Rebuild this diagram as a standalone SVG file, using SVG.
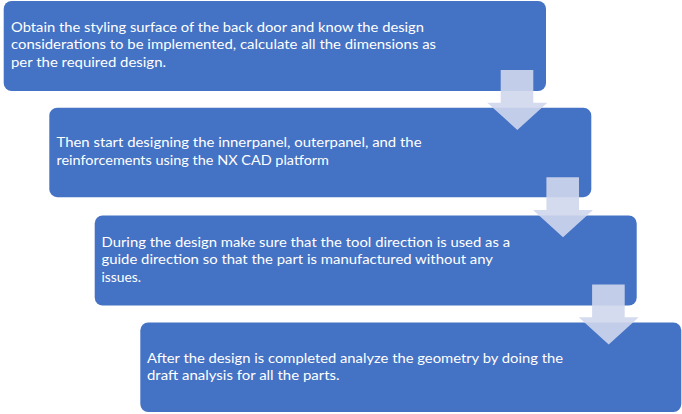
<svg xmlns="http://www.w3.org/2000/svg" width="682" height="414" viewBox="0 0 682 414">
  <style>
    .box { fill: #4472C4; }
    .txt { fill: #FFFFFF; font-family: "Lato", "Liberation Sans", sans-serif; font-size: 13.5px; }
    .arrow { fill: #D0D7ED; fill-opacity: 0.9; }
  </style>
  <rect width="682" height="414" fill="#FFFFFF"/>
  <g id="step1">
    <rect class="box" x="3.7" y="1" width="542.3" height="90" rx="8" ry="8"/>
    <text class="txt" x="11" y="31.7" textLength="413" lengthAdjust="spacingAndGlyphs">Obtain the styling surface of the back door and know the design</text>
    <text class="txt" x="11" y="49.3" textLength="425" lengthAdjust="spacingAndGlyphs">considerations to be implemented, calculate all the dimensions as</text>
    <text class="txt" x="11" y="66.8" textLength="155" lengthAdjust="spacingAndGlyphs">per the required design.</text>
  </g>
  <g id="step2">
    <rect class="box" x="49.3" y="107.7" width="542" height="89.5" rx="8" ry="8"/>
    <text class="txt" x="56.5" y="147.4" textLength="365" lengthAdjust="spacingAndGlyphs">Then start designing the innerpanel, outerpanel, and the</text>
    <text class="txt" x="56.5" y="165.4" textLength="272.5" lengthAdjust="spacingAndGlyphs">reinforcements using the NX CAD platform</text>
  </g>
  <g id="step3">
    <rect class="box" x="94.7" y="215.5" width="542" height="90" rx="8" ry="8"/>
    <text class="txt" x="101.5" y="246.7" textLength="408.5" lengthAdjust="spacingAndGlyphs">During the design make sure that the tool direction is used as a</text>
    <text class="txt" x="101.5" y="264.3" textLength="391.5" lengthAdjust="spacingAndGlyphs">guide direction so that the part is manufactured without any</text>
    <text class="txt" x="101.5" y="281.9" textLength="39.5" lengthAdjust="spacingAndGlyphs">issues.</text>
  </g>
  <g id="step4">
    <rect class="box" x="140.3" y="322.5" width="541" height="89.5" rx="8" ry="8"/>
    <text class="txt" x="147" y="362.6" textLength="416" lengthAdjust="spacingAndGlyphs">After the design is completed analyze the geometry by doing the</text>
    <text class="txt" x="147" y="380.4" textLength="192.5" lengthAdjust="spacingAndGlyphs">draft analysis for all the parts.</text>
  </g>
  <g id="connectors">
    <polygon class="arrow" points="500.7,70 533.3,70 533.3,102.7 547.3,102.7 517.3,130 487.3,102.7 500.7,102.7"/>
    <polygon class="arrow" points="546.4,177.3 579,177.3 579,210 593,210 563,237.3 533,210 546.4,210"/>
    <polygon class="arrow" points="592.1,284.6 624.7,284.6 624.7,317.3 638.7,317.3 608.7,344.6 578.7,317.3 592.1,317.3"/>
  </g>
</svg>
